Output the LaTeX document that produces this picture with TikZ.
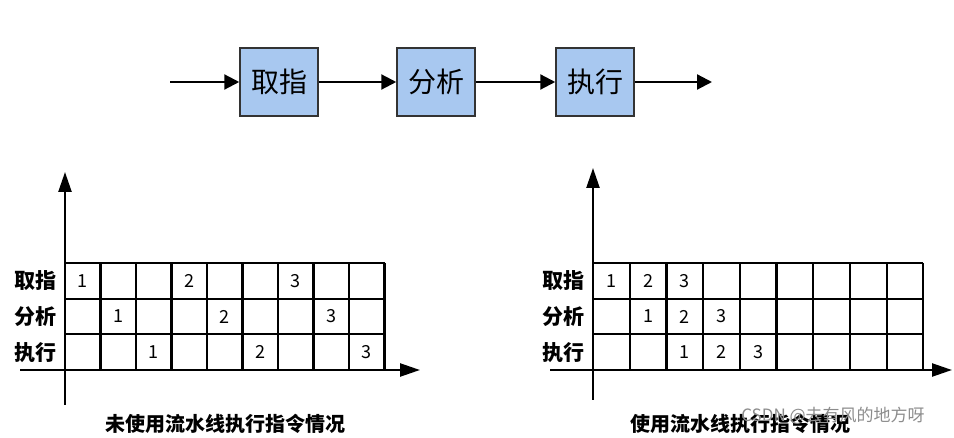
\documentclass[tikz,border=0pt]{standalone}
\usepackage{fontspec}
\setmainfont{Noto Sans CJK SC}
\usetikzlibrary{arrows.meta,positioning}
\definecolor{boxblue}{HTML}{A8C8F0}
\tikzset{
  stage box/.style={draw=black!80,line width=1.5pt,fill=boxblue,minimum width=78pt,minimum height=68pt,font=\fontsize{28}{30}\selectfont},
  flow arrow/.style={line width=2.2pt,-{Triangle[length=15pt,width=15pt]}},
  axis arrow/.style={line width=2.4pt,-{Triangle[length=20pt,width=13pt]}},
  grid line/.style={line width=2.2pt},
  row label/.style={font=\fontsize{21}{22}\selectfont\bfseries,anchor=east},
  num/.style={font=\fontsize{18}{18}\selectfont},
  caption/.style={font=\fontsize{20}{22}\selectfont\bfseries},
}
\begin{document}
\begin{tikzpicture}[x=1pt,y=-1pt]
\useasboundingbox (0,0) rectangle (954,438);
% pipeline stages
\coordinate (in) at (170,82);
\node (fetch) [stage box] at (279,82) {取指};
\node (decode) [stage box] at (436,82) {分析};
\node (exec) [stage box] at (595,82) {执行};
\coordinate (out) at (712,82);
\draw [flow arrow] (in) -- (fetch);
\draw [flow arrow] (fetch) -- (decode);
\draw [flow arrow] (decode) -- (exec);
\draw [flow arrow] (exec) -- (out);
% left chart: sequential
\coordinate (L0) at (65,405);
\coordinate (Ltop) at (65,172);
\coordinate (Lx0) at (20,370);
\coordinate (Lx1) at (420,370);
\foreach \k in {0,...,9}
  \draw [grid line] (65+35.5*\k,263) -- (65+35.5*\k,370);
\foreach \k in {0,...,2}
  \draw [grid line] (65,263+35.67*\k) -- (384.5,263+35.67*\k);
\draw [axis arrow] (L0) -- (Ltop);
\draw [axis arrow] (Lx0) -- (Lx1);
\foreach \i/\lab in {0/取指,1/分析,2/执行}
  \node [row label] at (60,280.8+35.67*\i) {\lab};
\foreach \c/\r/\n in {0/0/1,1/1/1,2/2/1,3/0/2,4/1/2,5/2/2,6/0/3,7/1/3,8/2/3}
  \node [num] at (82.75+35.5*\c,280.8+35.67*\r) {\n};
\node (capL) [caption] at (225,424) {未使用流水线执行指令情况};
% right chart: pipelined
\coordinate (R0) at (593,400);
\coordinate (Rtop) at (593,168);
\coordinate (Rx0) at (550,370);
\coordinate (Rx1) at (952,370);
\foreach \k in {0,...,9}
  \draw [grid line] (593+36.7*\k,263) -- (593+36.7*\k,370);
\foreach \k in {0,...,2}
  \draw [grid line] (593,263+35.67*\k) -- (923.3,263+35.67*\k);
\draw [axis arrow] (R0) -- (Rtop);
\draw [axis arrow] (Rx0) -- (Rx1);
\foreach \i/\lab in {0/取指,1/分析,2/执行}
  \node [row label] at (588,280.8+35.67*\i) {\lab};
\foreach \c/\r/\n in {0/0/1,1/0/2,2/0/3,1/1/1,2/1/2,3/1/3,2/2/1,3/2/2,4/2/3}
  \node [num] at (611.35+36.7*\c,280.8+35.67*\r) {\n};
\node (capR) [caption] at (740,424) {使用流水线执行指令情况};
\node (mark) [font=\fontsize{17}{18}\selectfont,text=black!45] at (833,416) {CSDN @去有风的地方呀};
\end{tikzpicture}
\end{document}
